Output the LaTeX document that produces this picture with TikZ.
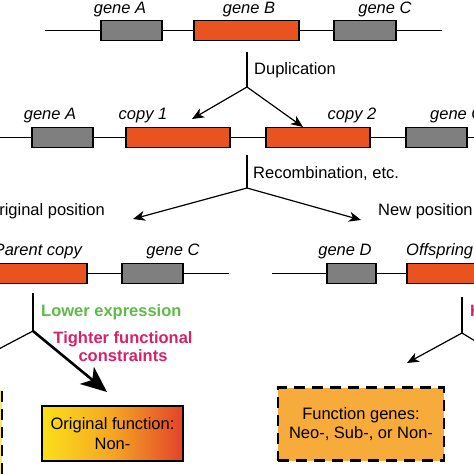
\documentclass[tikz,border=0pt]{standalone}
\usepackage{fontspec}
\setmainfont{Liberation Sans}
\usetikzlibrary{arrows.meta}
\definecolor{geneorange}{HTML}{E8531F}
\definecolor{genegray}{HTML}{7F7F7F}
\definecolor{lowgreen}{HTML}{5DBB46}
\definecolor{magentared}{HTML}{D5226A}
\definecolor{boxorange}{HTML}{F7AB3A}
\definecolor{gradyellow}{HTML}{FBDF1A}
\definecolor{gradmid}{HTML}{F5A623}
\definecolor{gradred}{HTML}{E3432A}
\tikzset{
  chrom/.style={line width=1.1pt},
  graybox/.style={draw, line width=1.2pt, fill=genegray, minimum height=19.5pt, inner sep=0pt},
  orangebox/.style={draw, line width=1.2pt, fill=geneorange, minimum height=19.5pt, inner sep=0pt},
  genelabel/.style={font=\fontsize{16.5}{19.5}\selectfont\itshape, anchor=base, inner sep=0pt},
  plainlabel/.style={font=\fontsize{16.5}{19.5}\selectfont, inner sep=0pt},
  boldlabel/.style={font=\fontsize{16.5}{19.5}\selectfont\bfseries, inner sep=0pt},
  stem/.style={line width=1.2pt},
  arr/.style={line width=1.2pt, -{Stealth[length=12pt,width=10pt,inset=3.5pt]}},
  thickarr/.style={line width=2.6pt, -{Stealth[length=26pt,width=22pt,inset=7pt]}},
  dashbox/.style={draw, line width=2.8pt, dash pattern=on 11pt off 7pt},
}
\begin{document}
\begin{tikzpicture}[x=1pt,y=-1pt]
\useasboundingbox (0,0) rectangle (474,474);
\clip (0,0) rectangle (474,474);

% ---------- Row 1 ----------
\coordinate (r1s) at (45,30.5);
\coordinate (r1e) at (442,30.5);
\node[graybox, minimum width=61pt] (A1) at (131.5,30.5) {};
\node[orangebox, minimum width=105pt] (B1) at (246.5,30.5) {};
\node[graybox, minimum width=62pt] (C1) at (365,30.5) {};
\draw[chrom] (r1s) -- (A1.west) (A1.east) -- (B1.west) (B1.east) -- (C1.west) (C1.east) -- (r1e);
\node[genelabel] (lA1) at (120,13) {gene A};
\node[genelabel] (lB1) at (249,13) {gene B};
\node[genelabel] (lC1) at (385,13) {gene C};

% ---------- Duplication ----------
\coordinate (d0) at (247,52);
\coordinate (d1) at (247,87);
\coordinate (dL) at (192,119);
\coordinate (dR) at (303,127);
\draw[stem] (d0) -- (d1);
\draw[arr] (d1) -- (dL);
\draw[arr] (d1) -- (dR);
\node[plainlabel, anchor=base west] (dup) at (254,74) {Duplication};

% ---------- Row 2 ----------
\coordinate (r2s) at (-5,137.5);
\coordinate (r2e) at (480,137.5);
\node[graybox, minimum width=61pt] (A2) at (62.5,137.5) {};
\node[orangebox, minimum width=104pt] (P1) at (178,137.5) {};
\node[orangebox, minimum width=104pt] (P2) at (318,137.5) {};
\node[graybox, minimum width=61pt] (C2) at (436.5,137.5) {};
\draw[chrom] (r2s) -- (A2.west) (A2.east) -- (P1.west) (P1.east) -- (P2.west) (P2.east) -- (C2.west) (C2.east) -- (r2e);
\node[genelabel] (lA2) at (50,119) {gene A};
\node[genelabel] (lP1) at (143,119) {copy 1};
\node[genelabel] (lP2) at (352,119) {copy 2};
\node[genelabel, anchor=base west] (lC2) at (430,119) {gene C};

% ---------- Recombination ----------
\coordinate (e0) at (247,155);
\coordinate (e1) at (247,188);
\coordinate (eL) at (133,219);
\coordinate (eR) at (361,220);
\draw[stem] (e0) -- (e1);
\draw[arr] (e1) -- (eL);
\draw[arr] (e1) -- (eR);
\node[plainlabel, anchor=base west] (rec) at (253,178) {Recombination, etc.};
\node[plainlabel, anchor=base east] (orig) at (105,215) {Original position};
\node[plainlabel, anchor=base west] (newp) at (378,215) {New position};

% ---------- Row 3 left ----------
\coordinate (r3le) at (229,273.5);
\node[orangebox, minimum width=107pt] (PC) at (33.5,273.5) {};
\node[graybox, minimum width=61pt] (C3) at (152.5,273.5) {};
\draw[chrom] (PC.east) -- (C3.west) (C3.east) -- (r3le);
\node[genelabel, anchor=base east] (lPC) at (82,255) {Parent copy};
\node[genelabel] (lC3) at (173,255) {gene C};

% ---------- Row 3 right ----------
\coordinate (r3rs) at (272,273.5);
\node[graybox, minimum width=49pt] (D3) at (351.5,273.5) {};
\node[orangebox, minimum width=113pt] (OS) at (463.5,273.5) {};
\draw[chrom] (r3rs) -- (D3.west) (D3.east) -- (OS.west);
\node[genelabel] (lD3) at (345,255) {gene D};
\node[genelabel, anchor=base west] (lOS) at (406,255) {Offspring copy};

% ---------- Left branch ----------
\coordinate (f0) at (33,293);
\coordinate (f1) at (33,331);
\coordinate (fL) at (-5,351);
\coordinate (fR) at (107,392);
\draw[stem] (f0) -- (f1);
\draw[stem] (f1) -- (fL);
\draw[thickarr] (f1) -- (fR);
\node[boldlabel, text=lowgreen, anchor=base west] (low) at (41,316) {Lower expression};
\node[boldlabel, text=magentared, align=center, anchor=north] (tight) at (123,331) {Tighter functional\\[-1pt]constraints};

\node[draw, line width=2pt, minimum width=141pt, minimum height=55pt, inner sep=0pt,
      left color=gradyellow, right color=gradred, middle color=gradmid,
      plainlabel, align=center] (origbox) at (112.5,433.5) {Original function:\\[1pt]Non-};

% left dashed box (partly visible)
\node[dashbox, fill=gradyellow!70!white, minimum width=80pt, minimum height=130pt, inner sep=0pt] (leftbox) at (-38,455) {};

% ---------- Right branch ----------
\coordinate (g0) at (462,297);
\coordinate (g1) at (462,333);
\coordinate (gL) at (407,363);
\coordinate (gR) at (480,344);
\draw[stem] (g0) -- (g1);
\draw[stem] (g1) -- (gR);
\draw[arr] (g1) -- (gL);
\node[boldlabel, text=magentared, anchor=base west] (high) at (470,316) {Higher expression};

\node[dashbox, fill=boxorange, minimum width=166pt, minimum height=73pt, inner sep=0pt,
      plainlabel, align=center] (funcbox) at (361,424) {Function genes:\\[-1pt]Neo-, Sub-, or Non-};
\end{tikzpicture}
\end{document}
